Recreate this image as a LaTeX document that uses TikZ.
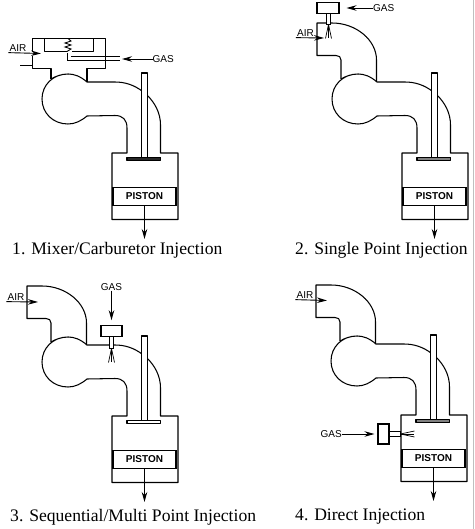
\documentclass[tikz,border=0pt]{standalone}
\usepackage{fontspec}
\setmainfont{Liberation Serif}
\newfontfamily\labelfont{Liberation Sans}
\usetikzlibrary{arrows.meta, positioning, calc}
\tikzset{
    spray/.pic={
        \draw[line width=0.7pt] (0,0) -- (-3,14);
        \draw[line width=0.7pt] (0,0) -- (0,14);
        \draw[line width=0.7pt] (0,0) -- (3,14);
    },
    engine/.pic={
        % Intake bulb and runner
        \draw[wall] (51,79) .. controls (56,76) and (62,74) .. (68,74) .. controls (53,74) and (42,85) .. (42,99) .. controls (42,113) and (53,124) .. (68,124) .. controls (75,124) and (81,121) .. (87,116) -- (115,115.5) .. controls (123,115.5) and (127,120) .. (127,128) -- (127,153) -- (112,153) -- (112,219.5) -- (178,219.5) -- (178,153) -- (160.5,153) -- (160.5,125) .. controls (160.5,113) and (155,103) .. (147,95);
        \draw[wall] (68,74) .. controls (74,74) and (80,76) .. (87,82) -- (115,82) .. controls (125,82) and (134,85) .. (142,91);
        % Valve
        \draw[wall, fill=white] (141.5,73) rectangle (147.5,158);
        \draw[wall, fill=#1] (127,157.5) rectangle (160.5,160.5);
        % Piston
        \node[pistonbox] (piston) at (144.5,196.5) {PISTON};
        \coordinate (out) at (144.5,239);
        \draw[flow] (piston) -- (out);
    },
    duct/.pic={
        \draw[wall] (51,79) -- (51,60) .. controls (51,57) and (49,55.5) .. (46,55.5) -- (27,55.5) -- (27,23) -- (42,23) .. controls (66,23) and (86.5,40) .. (86.5,60) -- (86.5,82);
    }
}
\begin{document}
\begin{tikzpicture}[
    x=1pt, y=-1pt,
    wall/.style={line width=1.05pt, line join=round},
    pistonbox/.style={rectangle, draw, line width=1.4pt, minimum width=63pt, minimum height=17.5pt, inner sep=0pt, font=\labelfont\bfseries\fontsize{10}{12}\selectfont},
    flow/.style={-{Stealth[length=10pt, width=5.5pt]}, line width=0.9pt},
    tag/.style={inner sep=0pt, font=\labelfont\fontsize{10}{11}\selectfont},
    injector/.style={rectangle, draw, line width=1.05pt, fill=white, inner sep=0pt},
    nozzle/.style={rectangle, draw, line width=0.9pt, fill=white, inner sep=0pt},
    caption/.style={anchor=west, inner sep=0pt, font=\fontsize{17.6}{20}\selectfont}
]
\useasboundingbox (0,0) rectangle (474,529);
\fill[black!25] (472.5,0) rectangle (474,529);

% Engines
\pic (e1) at (0,0) {engine=black!85};
\pic (e2) at (290,0) {engine=black!50};
\pic (e3) at (0,263) {engine=white};
\pic (e4) at (289,262) {engine=black!50};

% Ducts
\pic at (290,0) {duct};
\pic at (0,263) {duct};
\pic at (289,262) {duct};

% Mixer
\draw[wall] (51,79) -- (51,68.5) -- (32.5,68.5) -- (32.5,56);
\draw[wall] (32.5,52) -- (32.5,38.5) -- (105.5,38.5) -- (105.5,68.5) -- (87,68.5) -- (87,82);
\draw[wall] (44.5,38.5) -- (44.5,51.5) -- (67,51.5);
\draw[wall] (93.5,38.5) -- (93.5,51.5) -- (72,51.5);
\draw[line width=0.9pt] (68,38.5) -- (71,41) -- (65,43) -- (71,45) -- (65,47) -- (71,49) -- (67,51.5);
\draw[line width=0.9pt] (67,53) -- (67,60.5) -- (120,60.5);
\draw[line width=0.9pt] (71,56.5) -- (120,56.5);
\draw[wall] (20,65.5) -- (32.5,65.5);
\node[tag] (air1) at (18,48) {AIR};
\coordinate (airtip1) at (41,53.5);
\draw[flow] (air1.south west) ++(-1,1) -- (airtip1);
\node[tag, anchor=west] (gas1) at (152.5,59) {GAS};
\coordinate (tube1) at (122,59);
\draw[flow] (gas1) -- (tube1);

% Single point
\node[nozzle, minimum width=4.5pt, minimum height=11pt] (noz2) at (328.5,18.5) {};
\node[injector, minimum width=22pt, minimum height=10.5pt] (inj2) at (328,8) {};
\pic at (noz2.south) {spray};
\node[tag] (air2) at (305.5,33) {AIR};
\coordinate (airtip2) at (324,38);
\draw[flow] (air2.south west) ++(-1,1) -- (airtip2);
\node[tag, anchor=west] (gas2) at (373,8) {GAS};
\draw[flow, shorten >=7pt] (gas2) -- (inj2);

% Sequential
\node[nozzle, minimum width=4.5pt, minimum height=12pt] (noz3) at (111.5,342) {};
\node[injector, minimum width=21pt, minimum height=10.5pt] (inj3) at (111.5,331) {};
\pic at (noz3.south) {spray};
\node[tag] (air3) at (16,297) {AIR};
\coordinate (airtip3) at (38,302);
\draw[flow] (air3.south west) ++(-1,1) -- (airtip3);
\node[tag] (gas3) at (111.5,287) {GAS};
\draw[flow, shorten >=5pt] (gas3) -- (inj3);

% Direct
\node[nozzle, minimum width=11pt, minimum height=4.5pt] (noz4) at (394.5,434) {};
\node[injector, minimum width=11pt, minimum height=20pt] (inj4) at (383.5,434) {};
\pic[rotate=90] at (noz4.east) {spray};
\node[tag] (air4) at (305,295) {AIR};
\coordinate (airtip4) at (327,300.5);
\draw[flow] (air4.south west) ++(-1,1) -- (airtip4);
\node[tag, anchor=east] (gas4) at (342,434) {GAS};
\draw[flow, shorten >=3pt] (gas4) -- (inj4);

% Captions
\node[caption] (cap1) at (12,250) {1. Mixer/Carburetor Injection};
\node[caption] (cap2) at (295,250) {2. Single Point Injection};
\node[caption] (cap3) at (10,517) {3. Sequential/Multi Point Injection};
\node[caption] (cap4) at (295,517) {4. Direct Injection};

\end{tikzpicture}
\end{document}
